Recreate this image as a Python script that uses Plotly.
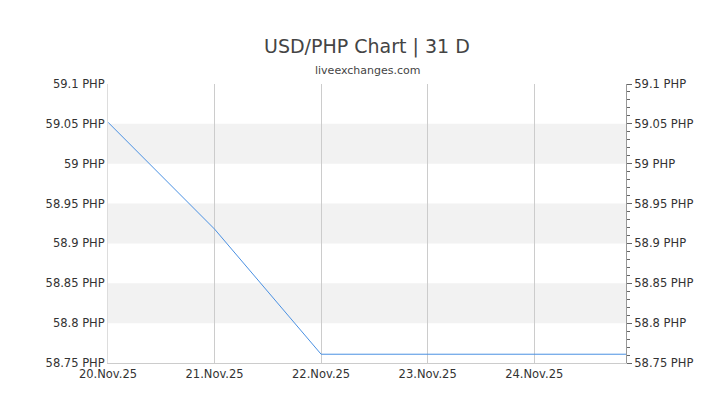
import plotly.graph_objects as go

dates = ["2025-11-20 00:00", "2025-11-21 00:00", "2025-11-22 00:00", "2025-11-23 00:00", "2025-11-24 00:00", "2025-11-24 20:40"]
rates = [59.052, 58.918, 58.761, 58.761, 58.761, 58.761]
tick_dates = ["2025-11-20", "2025-11-21", "2025-11-22", "2025-11-23", "2025-11-24"]
tick_labels = ["20.Nov.25", "21.Nov.25", "22.Nov.25", "23.Nov.25", "24.Nov.25"]
y_ticks = [58.75, 58.8, 58.85, 58.9, 58.95, 59.0, 59.05, 59.1]
y_labels = ["58.75 PHP", "58.8 PHP", "58.85 PHP", "58.9 PHP", "58.95 PHP", "59 PHP", "59.05 PHP", "59.1 PHP"]
bands = [(59.0, 59.05), (58.9, 58.95), (58.8, 58.85)]

fig = go.Figure()
fig.add_trace(go.Scatter(x=dates, y=rates, mode="lines", line=dict(color="#4a90e2", width=1), hoverinfo="skip"))
fig.add_trace(go.Scatter(x=dates, y=rates, yaxis="y2", mode="lines", line=dict(width=0), opacity=0, hoverinfo="skip"))
for a, b in bands:
    fig.add_shape(type="rect", xref="paper", x0=0, x1=1, yref="y", y0=a, y1=b, fillcolor="#f2f2f2", line_width=0, layer="below")

yr = [58.75, 59.1]
fig.update_layout(
    width=720, height=405, showlegend=False, plot_bgcolor="white", paper_bgcolor="white",
    margin=dict(l=100, r=102, t=76, b=50, autoexpand=False),
    font=dict(family="DejaVu Sans", size=11.5, color="#333"),
    annotations=[
        dict(text="USD/PHP Chart | 31 D", xref="paper", yref="paper", x=0.5, y=1.0, yshift=38, yanchor="middle", showarrow=False, font=dict(size=19, color="#444")),
        dict(text="liveexchanges.com", xref="paper", yref="paper", x=0.5, y=1.0, yshift=14, yanchor="middle", showarrow=False, font=dict(size=11, color="#444")),
    ],
    xaxis=dict(type="date", range=[dates[0], dates[-1]], tickvals=tick_dates, ticktext=tick_labels, showgrid=True, gridcolor="#cccccc",
               showline=True, linecolor="#cccccc", ticks="", zeroline=False, automargin=False),
    yaxis=dict(range=yr, tickvals=y_ticks, ticktext=y_labels, showgrid=False, zeroline=False, showline=True, linecolor="#dddddd", ticks="", automargin=False),
    yaxis2=dict(range=yr, overlaying="y", side="right", tickvals=y_ticks, ticktext=y_labels, showgrid=False, zeroline=False,
                showline=True, linecolor="#999", ticks="outside", ticklen=5, tickcolor="#666", automargin=False,
                minor=dict(dtick=0.01, ticks="outside", ticklen=3, tickcolor="#666")),
)
fig.write_html("out.html")
